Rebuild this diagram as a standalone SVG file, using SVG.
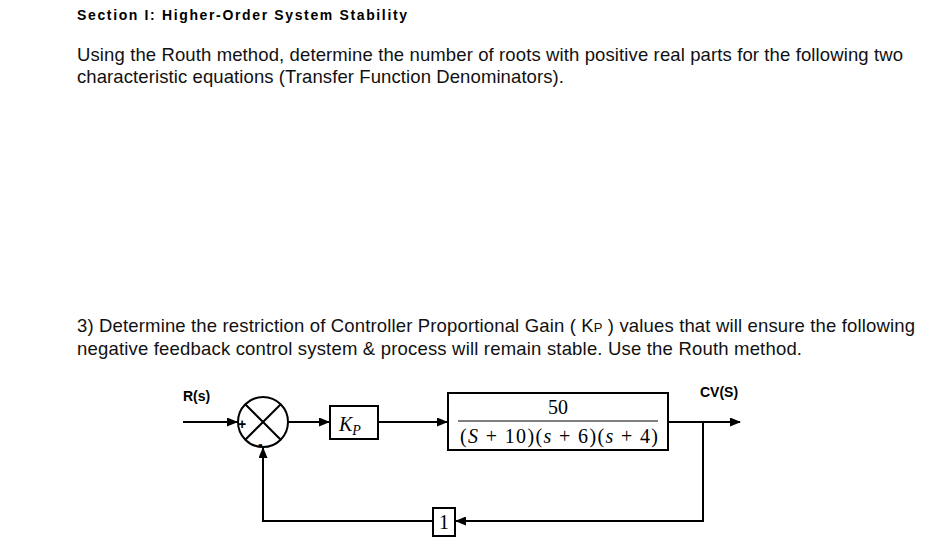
<svg xmlns="http://www.w3.org/2000/svg" width="935" height="546" viewBox="0 0 935 546">
<style>
.t{font-family:Arial,"Liberation Sans",sans-serif;font-size:18.5px;fill:#111}
.b{font-family:"Liberation Sans",Arial,sans-serif;font-weight:bold;font-size:14px}
.m{font-family:"Liberation Serif",serif;font-size:20px}
.ln{stroke:#000;stroke-width:2;fill:none}
</style>
<defs><marker id="a" markerWidth="11" markerHeight="9" refX="10" refY="4.5" orient="auto" markerUnits="userSpaceOnUse"><path d="M0,0L11,4.5L0,9z"/></marker></defs>
<rect width="935" height="546" fill="#fff"/>
<text class="b" x="77" y="20" font-size="16" textLength="330">Section I:  Higher-Order System Stability</text>
<text class="t" x="77" y="61" textLength="826">Using the Routh method, determine the number of roots with positive real parts for the following two</text>
<text class="t" x="77" y="83" textLength="487">characteristic equations (Transfer Function Denominators).</text>
<text class="t" x="77" y="332" textLength="838">3)  Determine the restriction of Controller Proportional Gain ( K<tspan font-size="13">P</tspan> ) values that will ensure the following</text>
<text class="t" x="77" y="355" textLength="725">negative feedback control system &amp; process will remain stable.  Use the Routh method.</text>
<text class="b" x="183" y="401">R(s)</text>
<text class="b" x="700" y="397">CV(S)</text>
<g id="sum"><circle cx="263" cy="422" r="25" class="ln"/><path d="M245,404L281,440M281,404L245,440" class="ln"/>
<text class="b" x="238" y="429" font-size="18">+</text><text class="b" x="258" y="449" font-size="17">-</text></g>
<g id="kp"><rect x="330" y="406" width="48" height="33" class="ln"/><text class="m" x="339" y="431" font-style="italic">K<tspan font-size="14" dy="4">P</tspan></text></g>
<g id="plant"><rect x="448" y="393" width="220" height="57" class="ln" stroke-width="2.5"/>
<text class="m" x="558" y="414" text-anchor="middle">50</text><path d="M458,421H658" stroke="#000"/>
<text class="m" x="559" y="443" text-anchor="middle" textLength="198">(<tspan font-style="italic">S</tspan> + 10)(<tspan font-style="italic">s</tspan> + 6)(<tspan font-style="italic">s</tspan> + 4)</text></g>
<g id="h"><rect x="433" y="508" width="22" height="28" class="ln"/><text class="m" x="444" y="529" text-anchor="middle">1</text></g>
<g id="conn">
<path d="M183,422H237" class="ln" marker-end="url(#a)"/>
<path d="M288,422H329" class="ln" marker-end="url(#a)"/>
<path d="M378,422H447" class="ln" marker-end="url(#a)"/>
<path d="M668,422H740" class="ln" marker-end="url(#a)"/>
<path d="M703,422V521H456" class="ln" marker-end="url(#a)"/>
<path d="M433,521H263V448" class="ln" marker-end="url(#a)"/>
</g>
</svg>
